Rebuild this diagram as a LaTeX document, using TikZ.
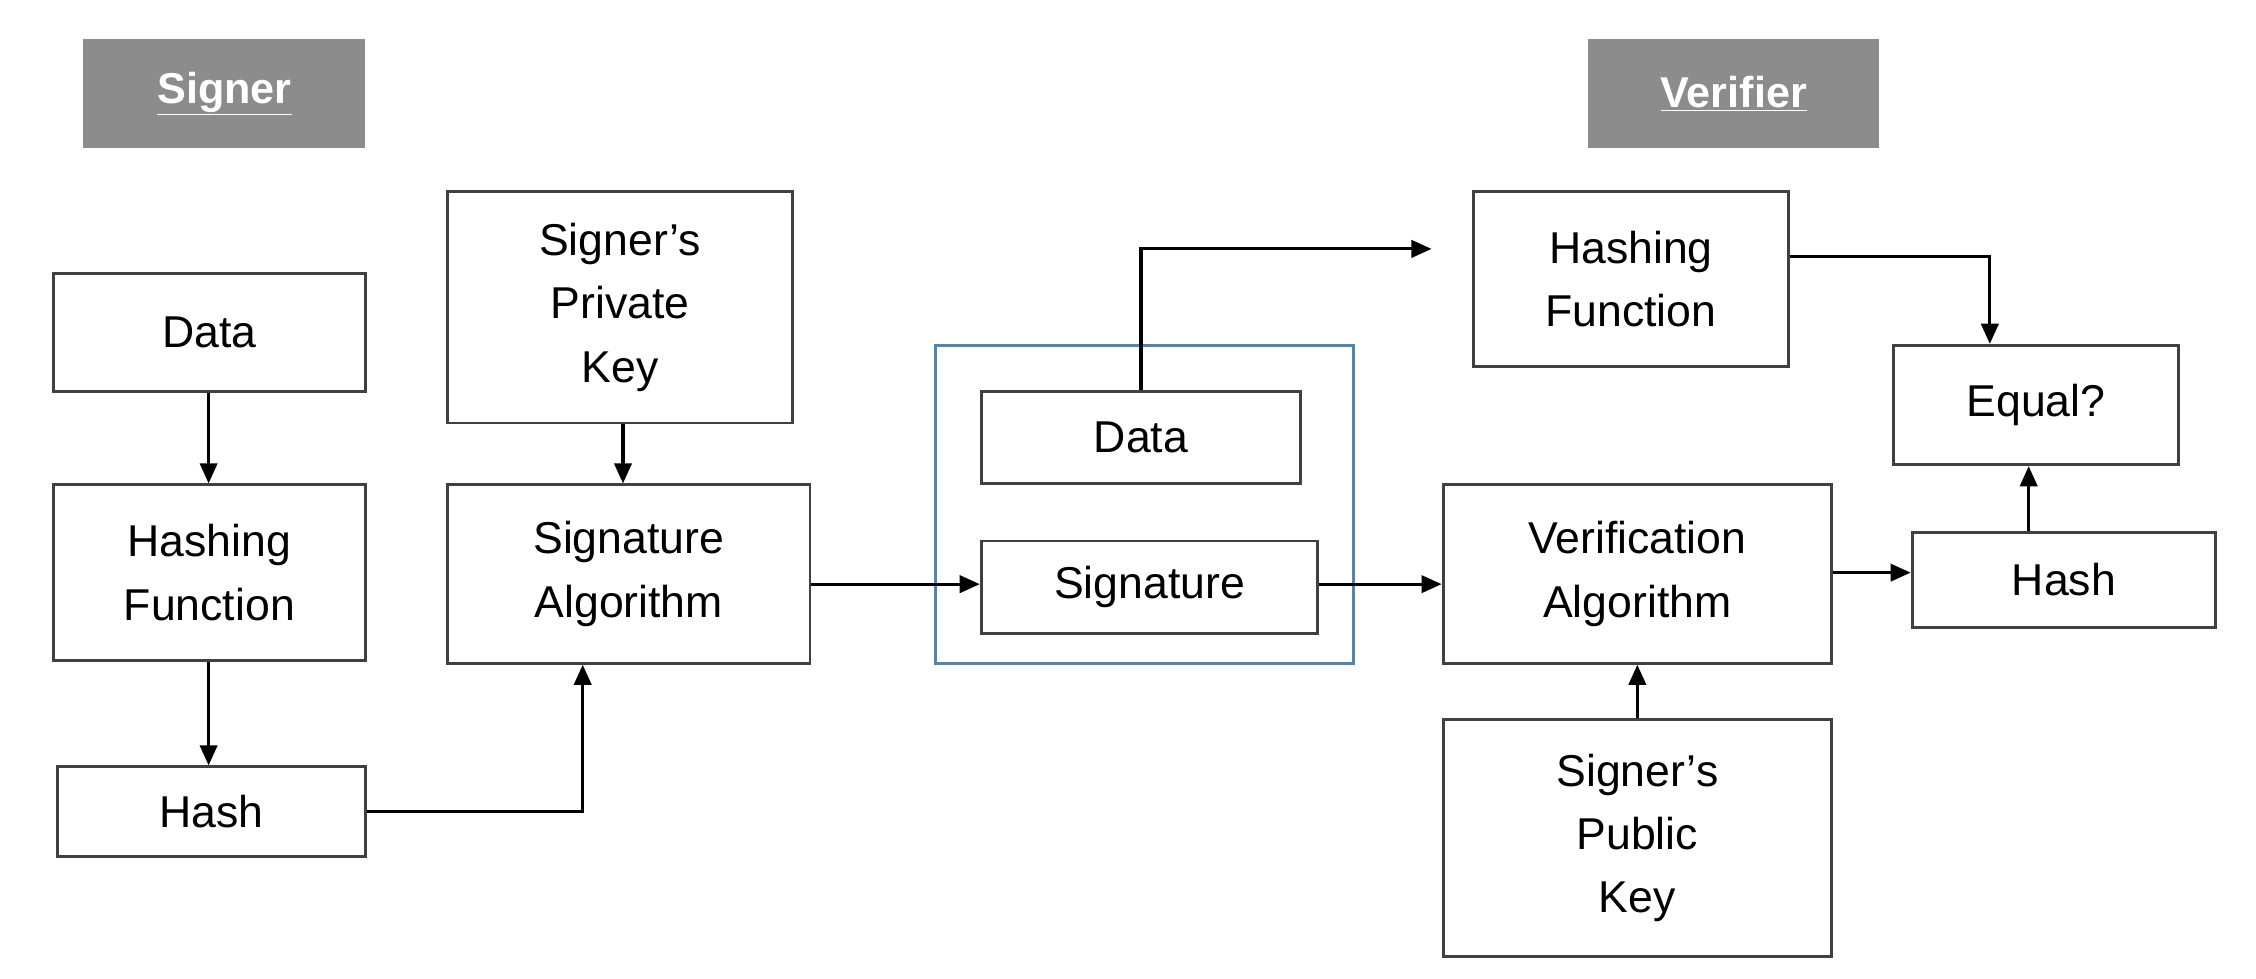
\documentclass[tikz,border=0pt]{standalone}
\usepackage{fontspec}
\setmainfont{Liberation Sans}
\usetikzlibrary{arrows.meta}
\definecolor{cb}{RGB}{90,130,170}
\begin{document}
\begin{tikzpicture}[x=1pt,y=-1pt,
  bx/.style={draw=black!75,line width=2pt,align=center,font=\fontsize{31}{44}\selectfont},
  hd/.style={fill=black!45,text=white,font=\bfseries\fontsize{30}{36}\selectfont},
  ar/.style={-{Triangle[length=14pt,width=12pt]},line width=2.2pt}]
\useasboundingbox (0,0) rectangle (1568,680);
\def\B#1#2#3#4#5#6#7{\node[#7,minimum width=#4-#2,minimum height=#5-#3] (#1) at ({(#2+#4)/2},{(#3+#5)/2}) {#6};}
\B{sh}{58}{27}{254}{103}{\underline{Signer}}{hd}
\B{vh}{1104}{27}{1306}{103}{\underline{Verifier}}{hd}
\B{d}{37}{190}{254}{272}{Data}{bx}
\B{hf}{37}{337}{254}{459}{Hashing\\Function}{bx}
\B{h}{40}{533}{254}{595}{Hash}{bx}
\B{pk}{311}{133}{551}{294}{Signer's\\Private\\Key}{bx}
\B{sa}{311}{337}{563}{461}{Signature\\Algorithm}{bx}
\B{c}{650}{240}{941}{461}{}{draw=cb,line width=2pt}
\B{di}{682}{272}{904}{336}{Data}{bx}
\B{si}{682}{376}{916}{440}{Signature}{bx}
\B{vhf}{1024}{133}{1243}{255}{Hashing\\Function}{bx}
\B{eq}{1316}{240}{1514}{323}{Equal?}{bx}
\B{va}{1003}{337}{1273}{461}{Verification\\Algorithm}{bx}
\B{vhh}{1329}{370}{1540}{436}{Hash}{bx}
\B{pub}{1003}{500}{1273}{665}{Signer's\\Public\\Key}{bx}
\coordinate (t) at (995,173);
\draw[ar] (d.south -| 145,0) -- (hf.north -| 145,0);
\draw[ar] (hf.south -| 145,0) -- (h.north -| 145,0);
\draw[ar] (h.east) -| (sa.south -| 405,0);
\draw[ar] (pk.south -| 433,0) -- (sa.north -| 433,0);
\draw[ar] (sa.east |- 0,406) -- (si.west |- 0,406);
\draw[ar] (di.north -| 793,0) |- (t);
\draw[ar] (si.east |- 0,406) -- (va.west |- 0,406);
\draw[ar] (vhf.east |- 0,178) -| (eq.north -| 1383,0);
\draw[ar] (va.east |- 0,398) -- (vhh.west |- 0,398);
\draw[ar] (vhh.north -| 1410,0) -- (eq.south -| 1410,0);
\draw[ar] (pub.north) -- (va.south);
\end{tikzpicture}
\end{document}
